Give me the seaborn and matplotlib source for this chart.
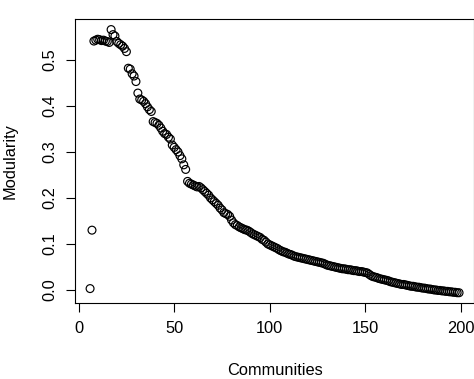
import seaborn as sns
import matplotlib.pyplot as plt
import pandas as pd

# number of communities (x) and modularity
communities = list(range(6, 200))

modularity = [
    0.003, 0.130,
    0.541, 0.543, 0.545, 0.544, 0.542, 0.543, 0.541, 0.540, 0.538,
    0.566, 0.555,
    0.552, 0.540, 0.536, 0.533, 0.530, 0.525, 0.518,
    0.482, 0.480, 0.470, 0.465, 0.453, 0.428,
    0.415, 0.413, 0.410, 0.405, 0.398,
    0.392, 0.388, 0.366, 0.364, 0.362, 0.358, 0.352, 0.345, 0.340,
    0.338, 0.332, 0.328, 0.315, 0.310, 0.305, 0.300, 0.292, 0.285,
    0.272, 0.262, 0.236, 0.232, 0.230, 0.228, 0.226, 0.224, 0.225,
    0.222, 0.218, 0.214, 0.210, 0.206, 0.200, 0.196, 0.192, 0.188,
    0.184, 0.178, 0.174, 0.168, 0.166, 0.164, 0.160, 0.152, 0.146,
    0.142, 0.140, 0.137, 0.135, 0.133, 0.131, 0.130, 0.128, 0.125,
    0.122, 0.120, 0.118, 0.116, 0.114, 0.110, 0.108, 0.104, 0.100,
    0.098, 0.096, 0.094, 0.092, 0.090, 0.087, 0.085, 0.083, 0.082,
    0.080, 0.078, 0.077, 0.075, 0.073, 0.072, 0.071, 0.070, 0.069,
    0.068, 0.067, 0.066, 0.065, 0.064, 0.063, 0.062, 0.061, 0.060,
    0.059, 0.058, 0.056, 0.054, 0.053, 0.052, 0.051, 0.050, 0.049,
    0.048, 0.047, 0.046, 0.046, 0.045, 0.044, 0.044, 0.043, 0.042,
    0.042, 0.041, 0.040, 0.040, 0.039, 0.038, 0.037, 0.034, 0.031,
    0.029, 0.028, 0.027, 0.025, 0.024, 0.023, 0.022, 0.021, 0.020,
    0.018, 0.017, 0.016, 0.015, 0.014, 0.013, 0.012, 0.012, 0.011,
    0.010, 0.009, 0.008, 0.008, 0.007, 0.006, 0.006, 0.005, 0.004,
    0.004, 0.003, 0.002, 0.002, 0.001, 0.000, 0.000, -0.001, -0.001,
    -0.002, -0.002, -0.003, -0.003, -0.004, -0.004, -0.005, -0.005,
    -0.006, -0.006,
]

x_ticks = [0, 50, 100, 150, 200]
y_ticks = [0.0, 0.1, 0.2, 0.3, 0.4, 0.5]
y_tick_labels = ['0.0', '0.1', '0.2', '0.3', '0.4', '0.5']

df = pd.DataFrame({'Communities': communities, 'Modularity': modularity})

sns.set_theme(style='ticks')
plt.rcParams['font.family'] = ['Liberation Sans', 'DejaVu Sans']

fig = plt.figure(figsize=(4.74, 3.79), dpi=100)
ax = fig.add_axes([0.1589, 0.1997, 0.8407, 0.7502])

sns.scatterplot(data=df, x='Communities', y='Modularity', ax=ax,
                marker='o', s=32, facecolor='none', edgecolor='black',
                linewidth=0.85)

# R-style 4% padding around the data
ax.set_xlim(-1.72, 206.72)
ax.set_ylim(-0.029, 0.589)

ax.set_xticks(x_ticks)
ax.set_xticklabels([str(t) for t in x_ticks])
ax.set_yticks(y_ticks)
ax.set_yticklabels(y_tick_labels, rotation=90, va='center')

for side in ['top', 'right', 'left', 'bottom']:
    ax.spines[side].set_visible(True)
    ax.spines[side].set_color('black')
    ax.spines[side].set_linewidth(0.8)

ax.tick_params(axis='both', direction='out', length=6.5, width=0.8,
               color='black', labelcolor='black', labelsize=11.8, pad=6.5)

ax.set_xlabel('Communities', fontsize=11.8, color='black')
ax.set_ylabel('Modularity', fontsize=11.8, color='black')
ax.xaxis.label.set_va('center')
ax.yaxis.label.set_va('center')
ax.xaxis.set_label_coords(0.5, -0.238)
ax.yaxis.set_label_coords(-0.164, 0.5)

plt.savefig('out.png', dpi=100)
plt.close()
